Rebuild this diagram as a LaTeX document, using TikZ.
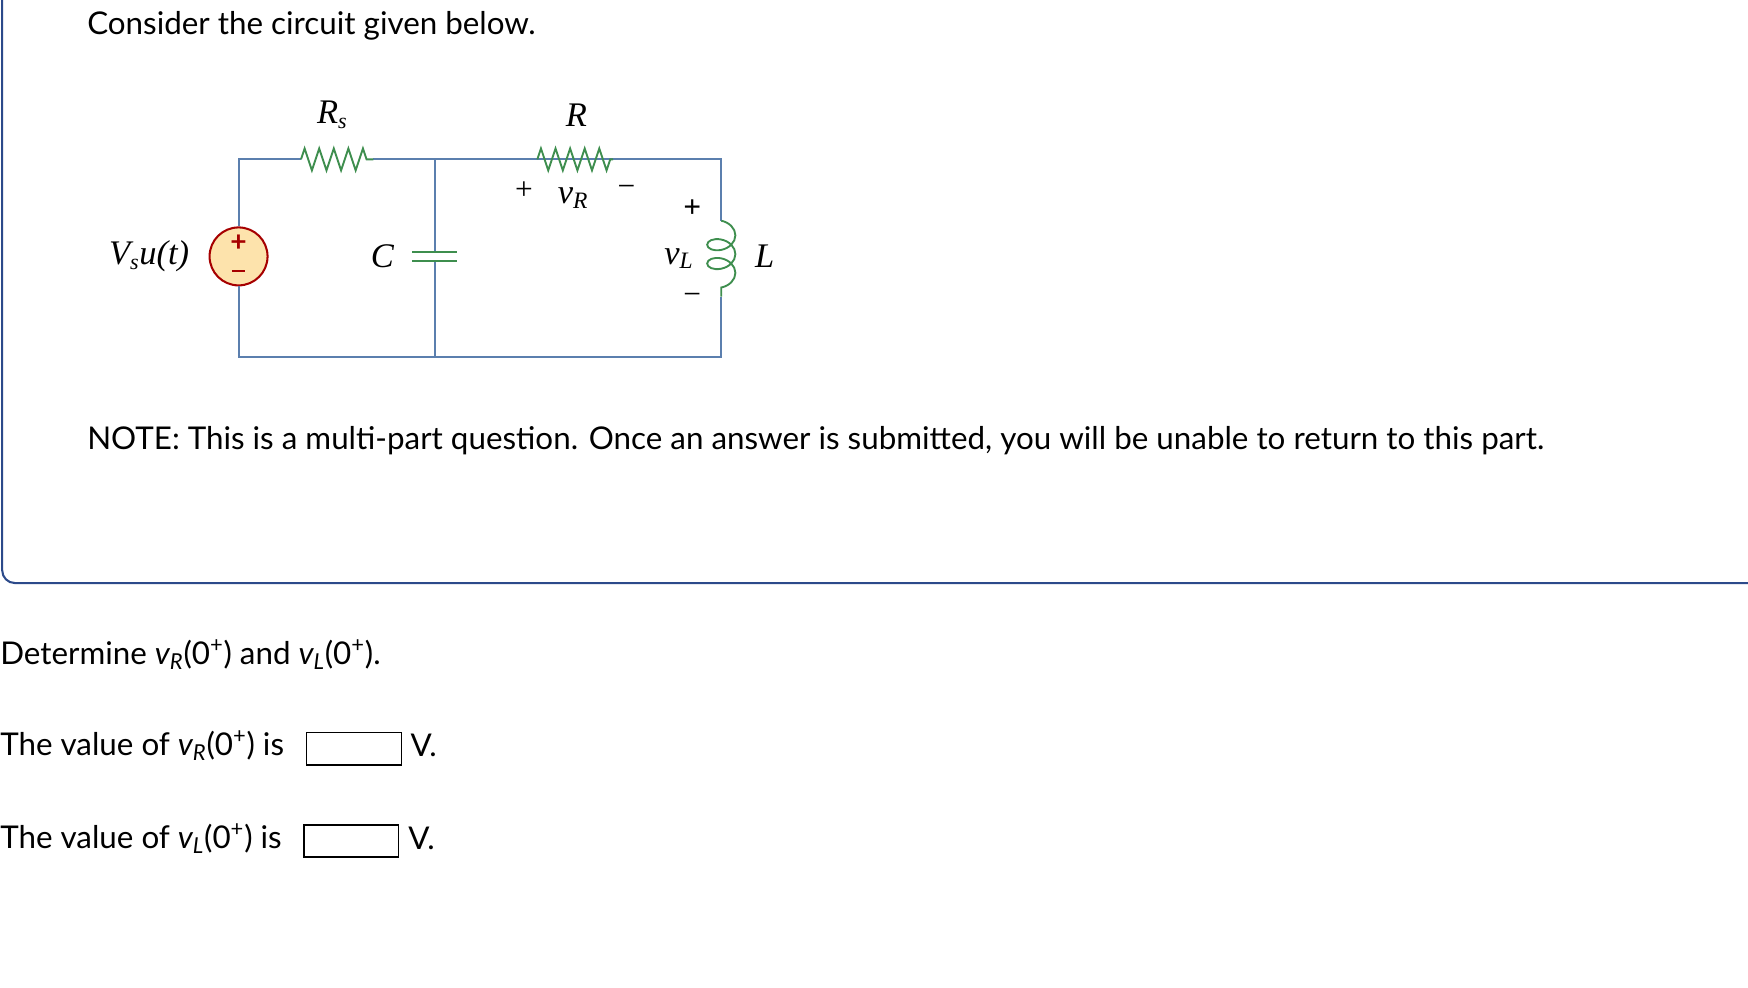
\documentclass[tikz,border=0pt]{standalone}
\usepackage{fontspec}
\setmainfont{Lato}
\newfontfamily\ser{Liberation Serif}
\usetikzlibrary{decorations.pathmorphing}
\definecolor{wire}{HTML}{5B7FAE}
\definecolor{grn}{HTML}{3E8E4E}
\definecolor{frame}{HTML}{2C4A8A}
\begin{document}
\begin{tikzpicture}[x=0.025cm,y=-0.025cm,
  txt/.style={anchor=west,inner sep=0,font=\fontsize{20}{22}\selectfont},
  lab/.style={inner sep=0,font=\fontsize{22}{24}\selectfont\ser\itshape},
  sgn/.style={inner sep=0,font=\fontsize{20}{20}\selectfont\ser},
  wir/.style={wire,line width=1.3pt},
  res/.style={grn,line width=1.2pt,decorate,decoration={zigzag,segment length=9.3,amplitude=7}},
  ansbox/.style={draw,line width=1pt,minimum width=85*0.025cm,minimum height=29*0.025cm,inner sep=0}]
\useasboundingbox (0,0) rectangle (1568,886);
% frame
\draw[frame,line width=1.3pt,rounded corners=8] (2,0) -- (2,523) -- (1568,523);
\node[txt] (t1) at (78,23) {Consider the circuit given below.};
\node[txt] (t2) at (78,395) {NOTE: This is a multi-part question. Once an answer is submitted, you will be unable to return to this part.};
% circuit coordinates
\coordinate (tl) at (214,143); \coordinate (tm) at (390,143); \coordinate (tr) at (647,143);
\coordinate (bl) at (214,320); \coordinate (bm) at (390,320); \coordinate (br) at (647,320);
\coordinate (rs1) at (270,143); \coordinate (rs2) at (335,143);
\coordinate (r1) at (482,143); \coordinate (r2) at (550,143);
\coordinate (c1) at (390,226); \coordinate (c2) at (390,234);
\coordinate (l1) at (647,198); \coordinate (l2) at (647,266);
\node[circle,draw=red!65!black,fill=yellow!35!orange!30,line width=1.3pt,minimum size=52*0.025cm,inner sep=0] (src) at (214,230) {};
\node[red!65!black,font=\fontsize{18}{18}\selectfont\bfseries,inner sep=0] (sp) at (214,218) {+};
\draw[red!65!black,line width=1.3pt] (208,243) -- (220,243);
\draw[wir] (src.north) -- (tl) -- (rs1);
\draw[wir] (rs2) -- (tr) -- (l1);
\draw[wir] (l2) -- (br) -- (bl) -- (src.south);
\draw[wir] (tm) -- (c1); \draw[wir] (c2) -- (bm);
\draw[res] (rs1) -- (rs2);
\draw[res] (r1) -- (r2);
\draw[grn,line width=1.2pt] (370,226) -- (410,226) (370,234) -- (410,234);
\draw[grn,line width=1.2pt,decorate,decoration={coil,aspect=0.7,segment length=12,amplitude=9}] (l1) -- (l2);
% labels
\node[lab] (lrs) at (298,103) {R\textsubscript{\fontsize{14}{14}\selectfont s}};
\node[lab] (lr) at (517,103) {R};
\node[lab,anchor=east] (lv) at (170,230) {V\textsubscript{\fontsize{14}{14}\selectfont s}u(t)};
\node[lab] (lc) at (343,230) {C};
\node[lab] (ll) at (686,230) {L};
\node[lab] (lvr) at (514,178) {v\textsubscript{\fontsize{15}{15}\selectfont R}};
\node[sgn] (pr) at (470,171) {+};
\node[sgn] (mr) at (562,171) {−};
\node[sgn,font=\fontsize{20}{20}\selectfont\ser\bfseries] (pl) at (621,187) {+};
\node[sgn] (ml) at (621,268) {−};
\node[lab] (lvl) at (609,232) {v\textsubscript{\fontsize{15}{15}\selectfont L}};
% questions
\node[txt] (q1) at (0,587) {Determine \textit{v\textsubscript{R}}(0\textsuperscript{+}) and \textit{v\textsubscript{L}}(0\textsuperscript{+}).};
\node[txt] (q2) at (0,669) {The value of \textit{v\textsubscript{R}}(0\textsuperscript{+}) is};
\node[ansbox] (b1) at (317.5,671.5) {};
\node[txt] (v1) at (368,669) {V.};
\node[txt] (q3) at (0,752) {The value of \textit{v\textsubscript{L}}(0\textsuperscript{+}) is};
\node[ansbox] (b2) at (315,754.5) {};
\node[txt] (v2) at (366,752) {V.};
\end{tikzpicture}
\end{document}
